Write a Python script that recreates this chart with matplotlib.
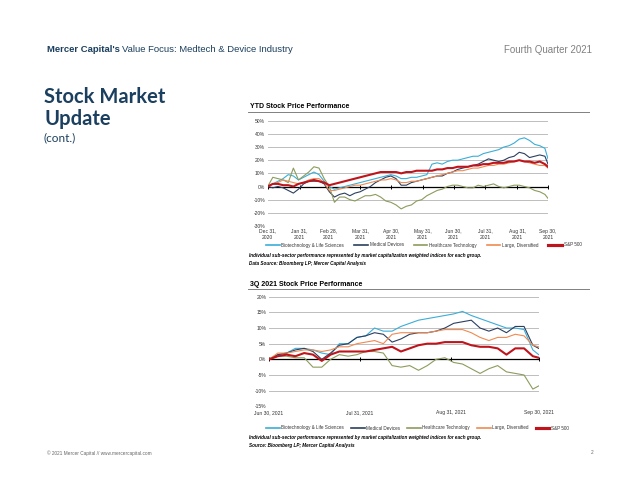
import matplotlib
matplotlib.use("Agg")
import matplotlib.pyplot as plt
from matplotlib.lines import Line2D

W, H = 638, 493

# ---- data: YTD (days since Dec 31, 2020), % change ----
ytd_days = [0, 5, 10, 15, 20, 25, 30, 35, 40, 45, 50, 55, 60, 65, 70, 75, 80, 85, 90, 95,
            100, 105, 110, 115, 120, 125, 130, 135, 140, 145, 150, 155, 160, 165, 170, 175,
            180, 185, 190, 195, 200, 205, 210, 215, 220, 225, 230, 235, 240, 245, 250, 255,
            260, 265, 270, 273]
ytd_biotech = [0, 2, 4, 6, 9, 8, 5, 7, 9, 11, 9, 4, 0, -2, -1, 0, 1, 2, 3, 4,
               5, 6, 7, 8, 9, 8, 6, 6, 7, 7, 8, 9, 17, 18, 17, 19,
               20, 20, 21, 22, 23, 23, 25, 26, 27, 28, 30, 31, 33, 36, 37, 35,
               32, 31, 29, 21]
ytd_meddev = [0, -1, 0, -1, -3, -5, -2, 2, 4, 4, 4, 2, -4, -8, -6, -5, -7, -5, -4, -2,
              0, 3, 5, 7, 8, 6, 1, 1, 3, 4, 5, 6, 7, 8, 8, 10,
              11, 13, 14, 15, 16, 17, 19, 21, 20, 19, 20, 22, 23, 26, 25, 22,
              23, 24, 23, 17]
ytd_hctech = [0, 7, 6, 5, 3, 14, 5, 8, 11, 15, 14, 6, 0, -12, -8, -8, -10, -11, -9, -7,
              -7, -6, -8, -11, -12, -14, -17, -15, -14, -11, -10, -7, -5, -3, -2, 0,
              1, 1, 0, -1, -1, 1, 0, 1, 2, 0, -1, 0, 1, 1, 0, -1,
              -3, -4, -6, -9]
ytd_largediv = [0, 2, 3, 5, 4, 3, 2, 3, 5, 6, 6, 3, -3, -3, -2, -1, 0, 1, 1, 2,
                3, 4, 5, 5, 6, 5, 3, 3, 4, 4, 5, 6, 7, 8, 9, 10,
                11, 12, 12, 13, 14, 14, 15, 16, 16, 17, 17, 18, 19, 20, 19, 18,
                17, 16, 16, 14]
ytd_sp500 = [0, 2, 2, 1, 1, 0, 2, 3, 4, 5, 4, 3, 1, 2, 3, 4, 5, 6, 7, 8,
             9, 10, 11, 11, 11, 11, 10, 11, 11, 12, 12, 12, 12, 13, 13, 14,
             14, 15, 15, 15, 16, 16, 17, 17, 18, 18, 18, 19, 19, 20, 19, 19,
             18, 19, 17, 15]
ytd_tick_days = [0, 31, 59, 90, 120, 151, 181, 212, 243, 273]
ytd_tick_labels = ["Dec 31,\n2020", "Jan 31,\n2021", "Feb 28,\n2021", "Mar 31,\n2021",
                   "Apr 30,\n2021", "May 31,\n2021", "Jun 30,\n2021", "Jul 31,\n2021",
                   "Aug 31,\n2021", "Sep 30,\n2021"]
ytd_yticks = [-30, -20, -10, 0, 10, 20, 30, 40, 50]

# ---- data: 3Q (days since Jun 30, 2021), % change ----
q3_days = [0, 3, 6, 9, 12, 15, 18, 21, 24, 27, 30, 33, 36, 39, 42, 45, 48, 51, 54, 57,
           60, 63, 66, 69, 72, 75, 78, 81, 84, 87, 90, 92]
q3_biotech = [0, 1.5, 2, 3.5, 3.5, 3, 2, 1.5, 5, 5, 7, 7.5, 10, 9, 9, 10.5, 11.5, 12.5, 13, 13.5,
              14, 14.5, 15.3, 14, 13, 12, 11, 10, 10, 9.5, 3, 1.5]
q3_meddev = [0, 1.5, 2, 3, 3.5, 2.5, 0, 2, 4.5, 5, 7, 7.5, 8.5, 8, 5.5, 6.5, 8, 8.5, 8.5, 9,
             10, 11.5, 12, 12.5, 10, 9, 10, 8.5, 10.5, 10.5, 4.5, 3.5]
q3_hctech = [0, 1, 1, 0.5, 0.5, -2.5, -2.5, 0, 1.5, 1, 1.5, 2.5, 2.5, 2, -2, -2.5, -2, -3.5, -2, 0,
             0.5, -1, -1.5, -3, -4.5, -3, -2, -4, -4.5, -5, -9.5, -8.5]
q3_largediv = [0, 2, 2, 2.5, 3, 3, 2.5, 3, 4, 4, 5, 5.5, 6, 5, 8, 8.5, 8.5, 8.5, 8.5, 9,
               9.5, 9.5, 9.5, 8.5, 7, 6, 7, 7, 8, 7.5, 4.5, 4]
q3_sp500 = [0, 1, 1.5, 1, 2, 1.5, -0.5, 1.5, 2.5, 2.5, 2.5, 2.5, 3, 3.5, 4, 2.5, 3.5, 4.5, 5, 5,
            5.5, 5.5, 5.5, 4.5, 4, 4, 3.5, 1.5, 3.5, 3.5, 1, 0.5]
q3_tick_days = [0, 31, 62, 92]
q3_tick_labels = ["Jun 30, 2021", "Jul 31, 2021", "Aug 31, 2021", "Sep 30, 2021"]
q3_yticks = [-15, -10, -5, 0, 5, 10, 15, 20]

names = ["Biotechnology & Life Sciences", "Medical Devices", "Healthcare Technology",
         "Large, Diversified", "S&P 500"]
colors = ["#3aaed8", "#2b3f60", "#8c9c5c", "#f08a52", "#c0141c"]
widths = [0.8, 0.8, 0.8, 0.8, 1.5]

plt.rcParams['font.family'] = ['Liberation Sans', 'DejaVu Sans']

fig = plt.figure(figsize=(W / 100, H / 100), dpi=100)


def fx(x):
    return x / W


def fy(y):
    return 1 - y / H


def setup(ax, xmax, ylo, yhi, yticks, tdays, tlabels):
    ax.set_xlim(0, xmax)
    ax.set_ylim(ylo, yhi)
    ax.set_yticks(yticks)
    ax.set_yticklabels([f"{v}%" for v in yticks])
    ax.set_xticks(tdays)
    ax.set_xticklabels(tlabels)
    ax.tick_params(length=0, labelsize=3.6, colors="#333333", pad=2)
    for s in ax.spines.values():
        s.set_visible(False)
    for v in yticks:
        if v != 0:
            ax.axhline(v, color="#bdbdbd", lw=0.7, zorder=0)
    ax.axhline(0, color="black", lw=0.9, zorder=1)
    ax.plot(tdays, [0] * len(tdays), linestyle="none", marker="|", color="black",
            markersize=3, markeredgewidth=0.7, zorder=1)


# YTD chart
ax1 = fig.add_axes([fx(267.7), fy(226), fx(548) - fx(267.7), fy(120.7) - fy(226)])
setup(ax1, 273, -30, 50, ytd_yticks, ytd_tick_days, ytd_tick_labels)
for vals, c, lw, n in zip([ytd_biotech, ytd_meddev, ytd_hctech, ytd_largediv, ytd_sp500],
                          colors, widths, names):
    ax1.plot(ytd_days, vals, color=c, lw=lw, label=n, zorder=3)

# 3Q chart
ax2 = fig.add_axes([fx(269), fy(406.3), fx(538.7) - fx(269), fy(296.7) - fy(406.3)])
setup(ax2, 92, -15, 20, q3_yticks, q3_tick_days, q3_tick_labels)
ax2.tick_params(axis="x", pad=3)
for vals, c, lw, n in zip([q3_biotech, q3_meddev, q3_hctech, q3_largediv, q3_sp500],
                          colors, widths, names):
    ax2.plot(q3_days, vals, color=c, lw=lw, label=n, zorder=3)

# legends
for ax, ly, cs in [(ax1, 245, 2.2), (ax2, 428, 1.5)]:
    leg = ax.legend(loc="center left", bbox_to_anchor=(fx(264), fy(ly)),
                    bbox_transform=fig.transFigure, ncol=5, frameon=False,
                    fontsize=3.3, handlelength=3.0, columnspacing=cs, handletextpad=0.3,
                    borderpad=0, labelcolor="#333333")
    for h, lw in zip(leg.get_lines(), widths):
        h.set_linewidth(lw * 1.5)

# chart titles with rule
fig.text(fx(250), fy(106), "YTD Stock Price Performance", fontsize=5.0,
         fontweight="bold", va="center", ha="left")
fig.add_artist(Line2D([fx(248), fx(589)], [fy(112), fy(112)], color="#808080", lw=0.7))
fig.text(fx(250), fy(284), "3Q 2021 Stock Price Performance", fontsize=5.0,
         fontweight="bold", va="center", ha="left")
fig.add_artist(Line2D([fx(248), fx(589)], [fy(289), fy(289)], color="#808080", lw=0.7))

# notes
note = "Individual sub-sector performance represented by market capitalization weighted indices for each group."
fig.text(fx(249), fy(256), note, fontsize=3.35, style="italic", fontweight="bold", va="center")
fig.text(fx(249), fy(263), "Data Source: Bloomberg LP; Mercer Capital Analysis", fontsize=3.35,
         style="italic", fontweight="bold", va="center")
fig.text(fx(249), fy(438), note, fontsize=3.35, style="italic", fontweight="bold", va="center")
fig.text(fx(249), fy(445), "Source: Bloomberg LP; Mercer Capital Analysis", fontsize=3.35,
         style="italic", fontweight="bold", va="center")

# page header
navy = "#1b3f5e"
t = fig.text(fx(47), fy(50), "Mercer Capital's", fontsize=6.8, fontweight="bold",
             color=navy, va="center")
fig.canvas.draw()
bb = t.get_window_extent()
fig.text(bb.x1 / W + 0.003, fy(50), "Value Focus: Medtech & Device Industry", fontsize=6.8,
         color=navy, va="center")
fig.text(fx(592), fy(50), "Fourth Quarter 2021", fontsize=7.0, color="#808080",
         va="center", ha="right")

fig.text(fx(44), fy(103), "Stock Market", fontsize=14.5, fontweight="bold", color=navy,
         va="baseline", family="Lato")
fig.text(fx(44), fy(125), "Update", fontsize=14.5, fontweight="bold", color=navy,
         va="baseline", family="Lato")
fig.text(fx(44), fy(141), "(cont.)", fontsize=8.5, color=navy, va="baseline", family="Lato")

# footer
fig.text(fx(47), fy(453), "\u00a9 2021 Mercer Capital // www.mercercapital.com", fontsize=3.4,
         color="#666666", va="center")
fig.text(fx(593), fy(453), "2", fontsize=3.4, color="#666666", va="center", ha="right")

fig.savefig("out.png", dpi=100)
